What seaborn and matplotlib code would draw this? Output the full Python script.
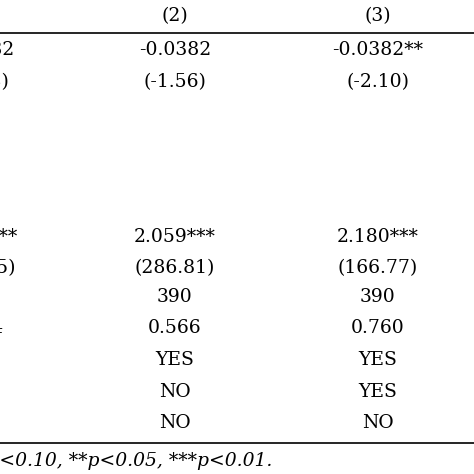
import matplotlib
matplotlib.use("Agg")
import matplotlib.pyplot as plt
import seaborn as sns

sns.set_theme(style="white")
plt.rcParams['font.family'] = ['DejaVu Serif', 'Liberation Serif']

headers = ["(1)", "(2)", "(3)"]
col1 = ["-0.0382", "(-1.53)", "", "", "2.0xx***", "(2xx.x5)", "", "0.xx4", "", "", ""]
col2 = ["-0.0382", "(-1.56)", "", "", "2.059***", "(286.81)", "390", "0.566", "YES", "NO", "NO"]
col3 = ["-0.0382**", "(-2.10)", "", "", "2.180***", "(166.77)", "390", "0.760", "YES", "YES", "NO"]
row_y = [50, 82, 135, 185, 237, 268, 297, 328, 360, 392, 423]
footnote = "*p<0.10, **p<0.05, ***p<0.01."

fig = plt.figure(figsize=(4.74, 4.74), dpi=100)
ax = fig.add_axes([0, 0, 1, 1])
ax.set_xlim(0, 474)
ax.set_ylim(474, 0)
ax.axis("off")

fs = 13.5
xs = [-22, 175, 378]
for x, h in zip(xs, headers):
    ax.text(x, 16, h, ha="center", va="center", fontsize=fs, color="black")
ax.plot([0, 474], [33, 33], color="black", lw=1.2)
for x, col in zip(xs, [col1, col2, col3]):
    for y, v in zip(row_y, col):
        ax.text(x, y, v, ha="center", va="center", fontsize=fs, color="black")
ax.plot([0, 474], [443, 443], color="black", lw=1.2)
ax.text(-22, 461, footnote, ha="left", va="center", fontsize=fs, style="italic", color="black")

fig.savefig("out.png", dpi=100)
